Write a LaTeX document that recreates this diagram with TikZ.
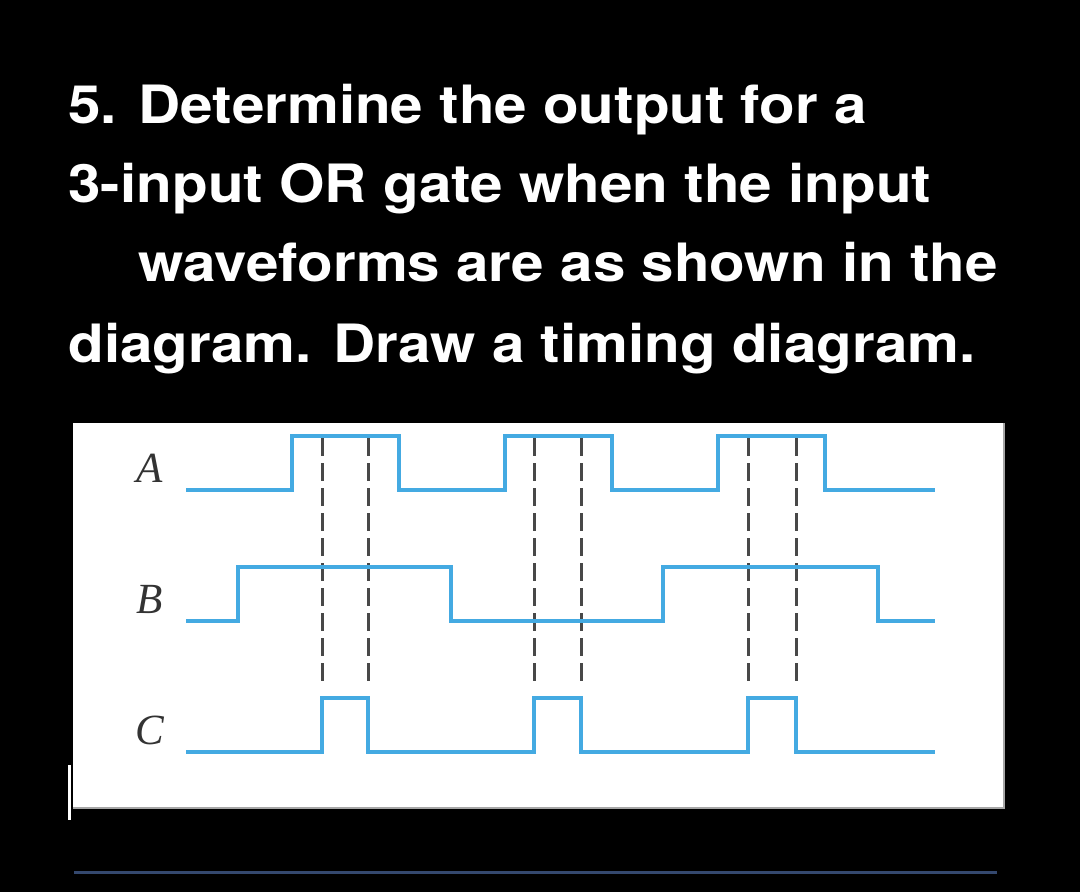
\documentclass[tikz,border=0pt]{standalone}
\usepackage{fontspec}
\setsansfont{TeX Gyre Heros}[FakeStretch=1.105]
\setmainfont{Liberation Serif}
\usetikzlibrary{positioning}
\definecolor{waveblue}{RGB}{68,170,226}
\definecolor{guidegray}{RGB}{72,72,72}
\definecolor{rulenavy}{RGB}{52,72,110}

\begin{document}
\begin{tikzpicture}[
                x=0.5pt, y=-0.5pt,
                % Node styles
                title/.style={anchor=base west, inner sep=0pt, text=white, font=\sffamily\bfseries\fontsize{26.4}{32}\selectfont},
                sig/.style={anchor=base, inner sep=0pt, text=black!80, font=\itshape\fontsize{21.5}{26}\selectfont},
                % Line styles
                wave/.style={draw=waveblue, line width=2pt},
                guide/.style={draw=guidegray, line width=1.5pt, dash pattern=on 9pt off 3.5pt},
            ]
                % Background and panel
                \fill[black] (0,0) rectangle (1080,892);
                \useasboundingbox (0,0) rectangle (1080,892);
                \fill[white] (73,423) rectangle (1004,808);
                \draw[gray!70, line width=0.6pt] (73,808) -- (1004,808) -- (1004,423);
                \fill[white] (68,765) rectangle (71,820);
                \draw[rulenavy, line width=1.5pt] (74,872) -- (997,872);

                % Question text
                \node[title] (line1) at (68,124) {5. Determine the output for a};
                \node[title] (line2) at (68,203) {3-input OR gate when the input};
                \node[title] (line3) at (138,282) {waveforms are as shown in the};
                \node[title] (line4) at (68,363) {diagram. Draw a timing diagram.};

                % Signal names
                \node[sig] (labA) at (150,482) {A};
                \node[sig] (labB) at (150,613) {B};
                \node[sig] (labC) at (150,744) {C};

                % Dashed guides (vertical)
                \foreach \x in {322, 368, 534, 581, 748, 796} {
                    \draw[guide] (\x,438) -- (\x,687);
                }

                % Input waveforms
                \draw[wave] (186,490) -| (292,436) -| (399,490) -| (505,436) -| (612,490)
                    -| (718,436) -| (825,490) -- (935,490);
                \draw[wave] (186,621) -| (238,567) -| (451,621) -| (663,567) -| (878,621)
                    -- (935,621);
                \draw[wave] (186,752) -| (322,698) -| (368,752) -| (534,698) -| (581,752)
                    -| (748,698) -| (796,752) -- (935,752);
            \end{tikzpicture}
\end{document}
